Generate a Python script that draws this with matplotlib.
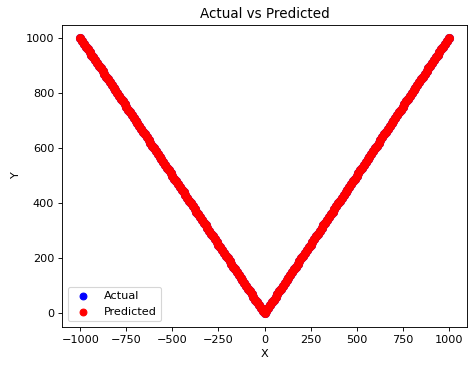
import matplotlib
matplotlib.use("Agg")
import matplotlib.pyplot as plt

x_values = [
    -1000, -990, -980, -970, -960, -950, -940, -930, -920, -910,
    -900, -890, -880, -870, -860, -850, -840, -830, -820, -810,
    -800, -790, -780, -770, -760, -750, -740, -730, -720, -710,
    -700, -690, -680, -670, -660, -650, -640, -630, -620, -610,
    -600, -590, -580, -570, -560, -550, -540, -530, -520, -510,
    -500, -490, -480, -470, -460, -450, -440, -430, -420, -410,
    -400, -390, -380, -370, -360, -350, -340, -330, -320, -310,
    -300, -290, -280, -270, -260, -250, -240, -230, -220, -210,
    -200, -190, -180, -170, -160, -150, -140, -130, -120, -110,
    -100, -90, -80, -70, -60, -50, -40, -30, -20, -10,
    0,
    10, 20, 30, 40, 50, 60, 70, 80, 90, 100,
    110, 120, 130, 140, 150, 160, 170, 180, 190, 200,
    210, 220, 230, 240, 250, 260, 270, 280, 290, 300,
    310, 320, 330, 340, 350, 360, 370, 380, 390, 400,
    410, 420, 430, 440, 450, 460, 470, 480, 490, 500,
    510, 520, 530, 540, 550, 560, 570, 580, 590, 600,
    610, 620, 630, 640, 650, 660, 670, 680, 690, 700,
    710, 720, 730, 740, 750, 760, 770, 780, 790, 800,
    810, 820, 830, 840, 850, 860, 870, 880, 890, 900,
    910, 920, 930, 940, 950, 960, 970, 980, 990, 1000,
]

y_actual = [
    1000, 990, 980, 970, 960, 950, 940, 930, 920, 910,
    900, 890, 880, 870, 860, 850, 840, 830, 820, 810,
    800, 790, 780, 770, 760, 750, 740, 730, 720, 710,
    700, 690, 680, 670, 660, 650, 640, 630, 620, 610,
    600, 590, 580, 570, 560, 550, 540, 530, 520, 510,
    500, 490, 480, 470, 460, 450, 440, 430, 420, 410,
    400, 390, 380, 370, 360, 350, 340, 330, 320, 310,
    300, 290, 280, 270, 260, 250, 240, 230, 220, 210,
    200, 190, 180, 170, 160, 150, 140, 130, 120, 110,
    100, 90, 80, 70, 60, 50, 40, 30, 20, 10,
    0,
    10, 20, 30, 40, 50, 60, 70, 80, 90, 100,
    110, 120, 130, 140, 150, 160, 170, 180, 190, 200,
    210, 220, 230, 240, 250, 260, 270, 280, 290, 300,
    310, 320, 330, 340, 350, 360, 370, 380, 390, 400,
    410, 420, 430, 440, 450, 460, 470, 480, 490, 500,
    510, 520, 530, 540, 550, 560, 570, 580, 590, 600,
    610, 620, 630, 640, 650, 660, 670, 680, 690, 700,
    710, 720, 730, 740, 750, 760, 770, 780, 790, 800,
    810, 820, 830, 840, 850, 860, 870, 880, 890, 900,
    910, 920, 930, 940, 950, 960, 970, 980, 990, 1000,
]

y_predicted = list(y_actual)

DPI = 81
fig = plt.figure(figsize=(474 / DPI, 370 / DPI), dpi=DPI)
ax = fig.add_axes([62 / 474, 43 / 370, 405 / 474, 302.5 / 370])

ax.scatter(x_values, y_actual, color="blue", s=50, label="Actual")
ax.scatter(x_values, y_predicted, color="red", s=50, label="Predicted")

ax.set_title("Actual vs Predicted")
ax.set_xlabel("X")
ax.set_ylabel("Y")
ax.legend(loc="lower left", markerscale=0.85)

fig.savefig("out.png", dpi=DPI)
